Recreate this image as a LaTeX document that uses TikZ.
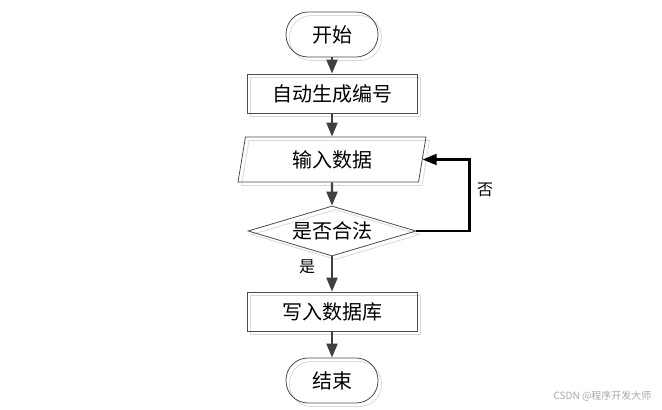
\documentclass[tikz,border=0pt]{standalone}
\usepackage{fontspec}
\setmainfont{Noto Sans CJK SC}
\usetikzlibrary{positioning,arrows.meta,shapes.geometric,shadows}

\begin{document}
\begin{tikzpicture}[x=1pt,y=1pt,
    box/.style={draw=black!70,line width=0.8pt,inner sep=0pt,
      font=\fontsize{20}{22}\selectfont,
      general shadow={draw=black!15,line width=0.8pt,shadow xshift=3.5pt,shadow yshift=-3.5pt}},
    terminal/.style={box,rectangle,rounded corners=22pt,minimum width=92pt,minimum height=45pt},
    process/.style={box,rectangle,minimum width=170pt,minimum height=39pt},
    io/.style={box,trapezium,trapezium left angle=68,trapezium right angle=112,
      trapezium stretches body,minimum width=188pt,minimum height=45pt},
    decision/.style={box,diamond,aspect=3.36,minimum width=168pt,minimum height=50pt},
    flow/.style={draw=black!75,line width=2.2pt,-{Triangle[length=14pt,width=11pt]}},
    back/.style={draw=black,line width=2.2pt,-{Triangle[length=14pt,width=11pt]}},
    tag/.style={font=\fontsize{16}{18}\selectfont}]
  \useasboundingbox (0,0) rectangle (662,-410);

  \node[terminal] (start) at (332,-34.5) {开始};
  \node[process] (gen) at (332,-93.5) {自动生成编号};
  \node[io] (input) at (332,-159.5) {输入数据};
  \node[decision] (check) at (332,-231) {是否合法};
  \node[process] (save) at (332,-311.5) {写入数据库};
  \node[terminal] (stop) at (332,-380.5) {结束};

  \draw[flow] (start) -- (gen);
  \draw[flow] (gen) -- (input);
  \draw[flow] (input) -- (check);
  \draw[flow] (check) -- (save);
  \draw[flow] (save) -- (stop);
  \draw[back] (check.east) -- ++(53,0) |- (input.east);

  \node[tag] (no) at (485,-190) {否};
  \node[tag] (yes) at (307,-267) {是};

  % watermark
  \node[anchor=east,text=black!35,font=\fontsize{10}{12}\selectfont] (mark) at (655,-396) {CSDN @程序开发大师};
\end{tikzpicture}
\end{document}
